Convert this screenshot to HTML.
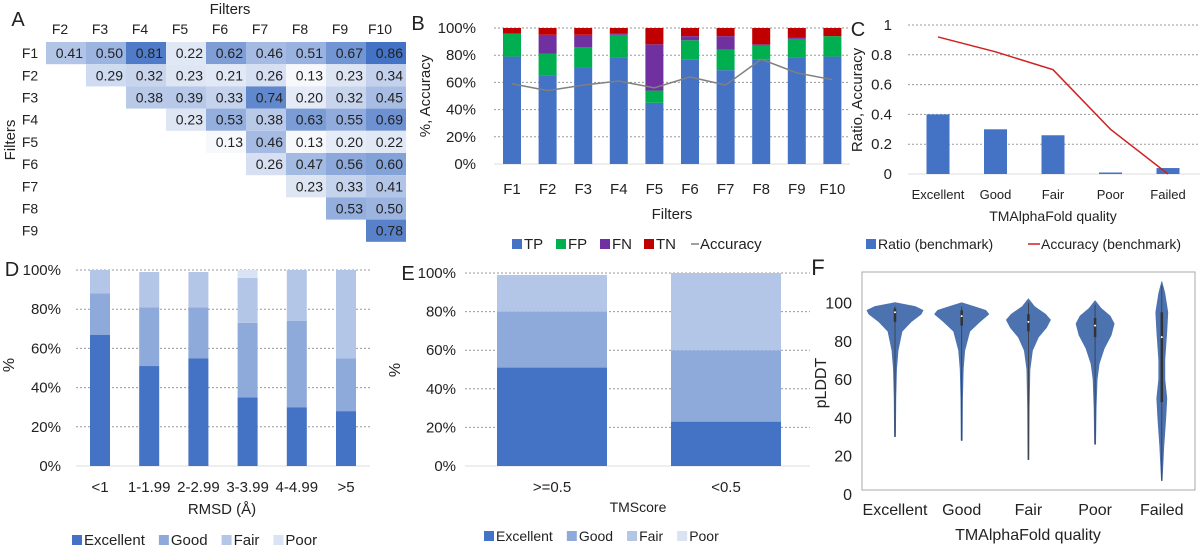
<!DOCTYPE html>
<html><head><meta charset="utf-8"><style>
body{margin:0;background:#fff}
svg{font-family:"Liberation Sans",sans-serif;display:block}
</style></head><body>
<svg id="s" width="1200" height="547" viewBox="0 0 1200 547"></svg>
<script>
// ---- Panel A data
const heatLabels=["F1","F2","F3","F4","F5","F6","F7","F8","F9","F10"];
const heatRows=[
[0.41,0.50,0.81,0.22,0.62,0.46,0.51,0.67,0.86],
[0.29,0.32,0.23,0.21,0.26,0.13,0.23,0.34],
[0.38,0.39,0.33,0.74,0.20,0.32,0.45],
[0.23,0.53,0.38,0.63,0.55,0.69],
[0.13,0.46,0.13,0.20,0.22],
[0.26,0.47,0.56,0.60],
[0.23,0.33,0.41],
[0.53,0.50],
[0.78]];
// ---- Panel B data
const bCats=["F1","F2","F3","F4","F5","F6","F7","F8","F9","F10"];
const bTP=[79,65,71,78,45,77,69,77,78,79];
const bFP=[17,16,15,17,9,14,15,10,14,15];
const bFN=[0,14,9,1,34,3,10,1,1,0];
const bTN=[4,5,5,4,12,6,6,12,7,6];
const bAcc=[59,54,58,61,56,64,58,77,67,62];
const pctTicks=[0,20,40,60,80,100];
// ---- Panel C data
const cCats=["Excellent","Good","Fair","Poor","Failed"];
const cRatio=[0.40,0.30,0.26,0.01,0.04];
const cAcc=[0.92,0.82,0.70,0.30,0.0];
const cTicks=[0,0.2,0.4,0.6,0.8,1];
// ---- Panel D data
const dCats=["<1","1-1.99","2-2.99","3-3.99","4-4.99",">5"];
const dExc=[67,51,55,35,30,28];
const dGood=[21,30,26,38,44,27];
const dFair=[12,18,18,23,26,45];
const dPoor=[0,0,0,4,0,0];
// ---- Panel E data
const eCats=[">=0.5","<0.5"];
const eExc=[51,23];
const eGood=[29,37];
const eFair=[19,40];
const ePoor=[0,0];
// ---- Panel F data (violin profiles: value levels and half-widths)
const fCats=["Excellent","Good","Fair","Poor","Failed"];
const fLevels=[
[30,50,65,75,85,90,94,96,98,100],
[28,50,65,75,85,90,94,96,98,100],
[18,45,65,75,82,87,91,94,98,102],
[26,45,60,68,76,83,89,93,97,101],
[7,25,40,50,60,70,85,95,105,111]];
const fWidths=[
[0.5,0.8,1.5,3,7,16,26,28,20,0],
[0.5,0.8,1.5,3,8,18,27,24,12,0],
[0.5,0.8,1.5,4,10,18,22,17,6,0],
[0.5,1,2,4,9,16,19,15,6,0],
[0.3,2,4,5,3,3,5,6,3,0]];
const fBox=[[90,97],[88,96],[85,94],[82,92],[48,95]];
const fMed=[95,93,90,88,82];
const fTicks=[0,20,40,60,80,100];

const S=document.getElementById('s');const NS="http://www.w3.org/2000/svg";
function el(t,a,txt){const e=document.createElementNS(NS,t);for(const k in a)e.setAttribute(k,a[k]);if(txt!==undefined)e.textContent=txt;S.appendChild(e);return e;}
function txt(x,y,s,size,anchor,name,rot){const a={x:x,y:y,'font-size':size,'text-anchor':anchor||'middle',fill:'#222'};if(rot)a.transform='rotate(-90 '+x+' '+y+')';const e=el('text',a,s);return e;}
function grid(x1,x2,y,name){const e=el('line',{x1:x1,x2:x2,y1:y,y2:y,stroke:'#999','stroke-dasharray':'2,2','stroke-width':1});}
function rect(x,y,w,h,f,name){const e=el('rect',{x:x,y:y,width:w,height:Math.max(0,h),fill:f});return e;}
function legendSq(x,y,c,label,name,size){rect(x,y-10,10,10,c,name+'-swatch');const t=txt(x+12,y,label,size||15,'start',name);return x+12+t.getComputedTextLength();}
function legendRow(x,y,cols,labels,size,gap){labels.forEach((n,k)=>{x=legendSq(x,y,cols[k],n,'legend-entry',size)+gap;});}

// ===== Panel A
txt(18,26,"A",20,'middle','panel-a-label');
txt(230,14,"Filters",15,'middle','heatmap-x-title');
txt(15,140,"Filters",15,'middle','heatmap-y-title',true);
const ax0=46,cw=40,ay0=42,rh=22.2;
function heatColor(v){const t=Math.max(0,Math.min(1,(v-0.13)/(0.86-0.13)));const a=[246,248,252],b=[68,114,196];return 'rgb('+a.map((c,i)=>Math.round(c+(b[i]-c)*t)).join(',')+')';}
for(let j=1;j<heatLabels.length;j++)txt(ax0+cw*(j-1)+cw/2-6,34,heatLabels[j],14,'middle','heatmap-col-label');
for(let i=0;i<heatRows.length;i++){
  txt(30,ay0+rh*i+rh/2+5,heatLabels[i],14,'middle','heatmap-row-label');
  heatRows[i].forEach((v,k)=>{const col=i+k;const x=ax0+cw*col,y=ay0+rh*i;
    rect(x,y,cw,rh,heatColor(v),'heatmap-cell');
    txt(x+cw-3,y+rh/2+5,v.toFixed(2),14,'end','heatmap-value');});
}
// ===== Panel B
txt(418,30,"B",20,'middle','panel-b-label');
const bx0=494,bx1=850,by0=164,by1=28;const byS=v=>by0-(by0-by1)*v/100;
const bxS=i=>512+i*35.6;
pctTicks.forEach(t=>{if(t>0)grid(bx0,bx1,byS(t),'b-gridline');txt(476,byS(t)+5,t+'%',15,'end','b-y-tick');});
el('line',{x1:bx0,x2:bx1,y1:by0,y2:by0,stroke:'#ddd'});
txt(430,96,"%, Accuracy",15,'middle','b-y-title',true);
const bCol=['#4472c4','#00b050','#7030a0','#c00000'],bSer=[bTP,bFP,bFN,bTN],bNames=['tp','fp','fn','tn'];
bCats.forEach((c,i)=>{let acc=0;bSer.forEach((s,k)=>{rect(bxS(i)-9,byS(acc+s[i]),18,byS(acc)-byS(acc+s[i]),bCol[k],'bar-'+bNames[k]);acc+=s[i];});
  txt(bxS(i),194,c,15,'middle','b-x-tick');});
el('polyline',{points:bAcc.map((v,i)=>bxS(i)+','+byS(v)).join(' '),fill:'none',stroke:'#808080','stroke-width':1.5});
txt(672,219,"Filters",15,'middle','b-x-title');
[['TP',bCol[0]],['FP',bCol[1]],['FN',bCol[2]],['TN',bCol[3]]].forEach((d,k)=>legendSq(512+k*44,249,d[1],d[0],'legend-entry'));
el('line',{x1:691,x2:699,y1:244,y2:244,stroke:'#808080','stroke-width':1.5});
txt(700,249,"Accuracy",15,'start','legend-entry');
// ===== Panel C
txt(858,36,"C",20,'middle','panel-c-label');
const cx0=908,cx1=1200,cy0=174,cy1=25;const cyS=v=>cy0-(cy0-cy1)*v;const cxS=i=>938+i*57.5;
cTicks.forEach(t=>{if(t>0)grid(cx0,cx1,cyS(t),'c-gridline');txt(892,cyS(t)+5,String(t),15,'end','c-y-tick');});
el('line',{x1:cx0,x2:cx1,y1:cy0,y2:cy0,stroke:'#ddd'});
txt(862,100,"Ratio, Accuracy",15,'middle','c-y-title',true);
cCats.forEach((c,i)=>{rect(cxS(i)-11.5,cyS(cRatio[i]),23,cyS(0)-cyS(cRatio[i]),'#4472c4','bar-ratio');txt(cxS(i),199,c,13,'middle','c-x-tick');});
el('polyline',{points:cAcc.map((v,i)=>cxS(i)+','+cyS(v)).join(' '),fill:'none',stroke:'#d02020','stroke-width':1.5});
txt(1053,221,"TMAlphaFold quality",14,'middle','c-x-title');
legendSq(866,249,'#4472c4',"Ratio (benchmark)",'legend-entry',14);
el('line',{x1:1028,x2:1040,y1:244,y2:244,stroke:'#d02020','stroke-width':1.5});
txt(1041,249,"Accuracy (benchmark)",14,'start','legend-entry');
// ===== stacked panels D/E
const qCol=['#4472c4','#8eaadb','#b4c6e7','#dae3f3'],qNames=['Excellent','Good','Fair','Poor'];
function stacked(x0,x1,y0,y1,cats,xs,w,series,tickX,suffix){
  const ys=v=>y0-(y0-y1)*v/100;
  pctTicks.forEach(t=>{if(t>0)grid(x0,x1,ys(t),'gridline');txt(tickX,ys(t)+5,t+suffix,15,'end','y-tick');});
  el('line',{x1:x0,x2:x1,y1:y0,y2:y0,stroke:'#ddd'});
  cats.forEach((c,i)=>{let acc=0;series.forEach((s,k)=>{rect(xs(i)-w/2,ys(acc+s[i]),w,ys(acc)-ys(acc+s[i]),qCol[k],'bar-'+qNames[k].toLowerCase());acc+=s[i];});txt(xs(i),y0+26,c,15,'middle','x-tick');});
}
txt(12,276,"D",20,'middle','panel-d-label');
stacked(76,370,466,270,dCats,i=>100+i*49.2,20,[dExc,dGood,dFair,dPoor],61,'%');
txt(14,365,"%",16,'middle','d-y-title',true);
txt(222,514,"RMSD (Å)",15,'middle','d-x-title');
legendRow(72,545,qCol,qNames,15,14);
txt(408,280,"E",20,'middle','panel-e-label');
stacked(465,810,466,273,eCats,i=>552+i*174,110,[eExc,eGood,eFair,ePoor],456,'%');
txt(400,370,"%",16,'middle','e-y-title',true);
txt(638,512,"TMScore",14,'middle','e-x-title');
legendRow(484,541,qCol,qNames,14,14);
// ===== Panel F
txt(818,275,"F",22,'middle','panel-f-label');
const fyS=v=>494-1.913*v;const fxS=i=>895+i*66.7;
el('rect',{x:862,y:272,width:333,height:218,fill:'none',stroke:'#aaa'});
fTicks.forEach(t=>txt(852,fyS(t)+6,String(t),16,'end','f-y-tick'));
txt(826,383,"pLDDT",16,'middle','f-y-title',true);
fCats.forEach((c,i)=>{const L=fLevels[i],W=fWidths[i],cx=fxS(i);
  const right=L.map((v,k)=>(cx+W[k])+','+fyS(v)),left=L.map((v,k)=>(cx-W[k])+','+fyS(v)).reverse();
  const p=el('polygon',{points:right.concat(left).join(' '),fill:'#4c72b0',stroke:'#4c72b0','stroke-width':0.8,'stroke-linejoin':'round'});
  
  el('line',{x1:cx,x2:cx,y1:fyS(L[0]),y2:fyS(L[L.length-1]-2),stroke:'#3a3a3a','stroke-width':0.8});
  el('line',{x1:cx,x2:cx,y1:fyS(fBox[i][0]),y2:fyS(fBox[i][1]),stroke:'#333','stroke-width':2.5});
  el('circle',{cx:cx,cy:fyS(fMed[i]),r:1,fill:'#fff'});
  txt(cx,515,c,16,'middle','f-x-tick');});
txt(1028,540,"TMAlphaFold quality",16,'middle','f-x-title');
</script>
</body></html>
